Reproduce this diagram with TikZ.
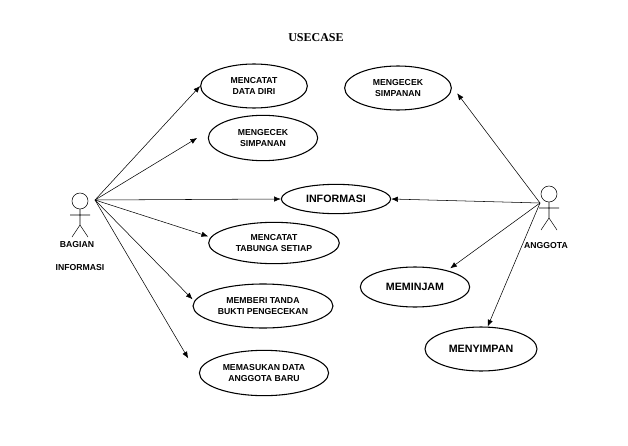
\documentclass[tikz,border=0pt]{standalone}
\usepackage{fontspec}
\setmainfont{Liberation Sans}
\newfontfamily\titlefont{Liberation Serif}
\usetikzlibrary{shapes.geometric,arrows.meta}
\tikzset{
  usecase/.style={ellipse,draw,thick,align=center,font=\fontsize{6.5}{8}\selectfont\bfseries,minimum width=#1},
  usecase/.default=80pt,
  assoc/.style={-{Latex[length=5pt,width=4pt]}},
  lbl/.style={font=\fontsize{6.5}{8}\selectfont\bfseries}
}
\begin{document}
\begin{tikzpicture}[x=0.75pt,y=-0.75pt]
  \useasboundingbox (0,0) rectangle (628,446);
  \node[font=\titlefont\fontsize{9}{10}\selectfont\bfseries] (title) at (316,38) {USECASE};
  % actors
  \draw (80,201) circle (8);
  \draw (80,209) -- (80,225) (70,215) -- (90,215) (80,225) -- (72,237) (80,225) -- (88,237);
  \coordinate (bagian) at (95,200);
  \node[lbl] (bagianA) at (77,245) {BAGIAN};
  \node[lbl] (bagianB) at (80,268) {INFORMASI};
  \draw (549,194) circle (8);
  \draw (549,202) -- (549,218) (539,208) -- (559,208) (549,218) -- (541,230) (549,218) -- (557,230);
  \coordinate (anggota) at (540,203);
  \node[lbl] (anggotaL) at (546,246) {ANGGOTA};
  % use cases
  \node[usecase=80pt,minimum height=33pt] (catat) at (254,86) {MENCATAT\\DATA DIRI};
  \node[usecase=82pt,minimum height=34pt] (cekL) at (263,138) {MENGECEK\\SIMPANAN};
  \node[usecase=82pt,minimum height=22pt,font=\fontsize{8}{9}\selectfont\bfseries] (info) at (336,199) {INFORMASI};
  \node[usecase=98pt,minimum height=31pt] (tabung) at (274,243) {MENCATAT\\TABUNGA SETIAP};
  \node[usecase=86pt,minimum height=33pt] (bukti) at (263,306) {MEMBERI TANDA\\BUKTI PENGECEKAN};
  \node[usecase=92pt,minimum height=34pt] (baru) at (264,373) {MEMASUKAN DATA\\ANGGOTA BARU};
  \node[usecase=80pt,minimum height=33pt] (cekR) at (398,88) {MENGECEK\\SIMPANAN};
  \node[usecase=82pt,minimum height=30pt,font=\fontsize{8}{9}\selectfont\bfseries] (pinjam) at (415,287) {MEMINJAM};
  \node[usecase=84pt,minimum height=33pt,font=\fontsize{8}{9}\selectfont\bfseries] (simpan) at (481,349) {MENYIMPAN};
  % associations
  \draw[assoc] (bagian) -- (catat.west);
  \draw[assoc] (bagian) -- ([xshift=-8pt]cekL.west);
  \draw[assoc] (bagian) -- (info.west);
  \draw[assoc] (bagian) -- ([yshift=5pt]tabung.west);
  \draw[assoc] (bagian) -- ([yshift=5pt]bukti.west);
  \draw[assoc] (bagian) -- ([xshift=-8pt,yshift=11pt]baru.west);
  \draw[assoc] (anggota) -- ([xshift=4pt,yshift=-4pt]cekR.east);
  \draw[assoc] (anggota) -- (info.east);
  \draw[assoc] (anggota) -- ([xshift=-15pt,yshift=14pt]pinjam.east);
  \draw[assoc] (anggota) -- ([xshift=5pt]simpan.north);
\end{tikzpicture}
\end{document}
